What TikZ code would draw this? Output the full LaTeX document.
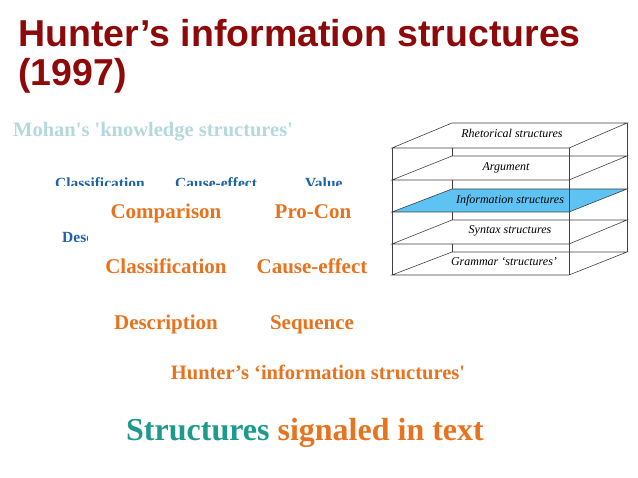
\documentclass[tikz,border=0pt]{standalone}
\usepackage{fontspec}
\setmainfont{Liberation Serif}
\newfontfamily\titlefont{Liberation Sans}
\definecolor{titred}{HTML}{8E0A0A}
\definecolor{mohan}{HTML}{B4D9DD}
\definecolor{blu}{HTML}{1F62A8}
\definecolor{orng}{HTML}{E8731E}
\definecolor{teal}{HTML}{1E9A8C}
\definecolor{infob}{HTML}{5EC3F2}
\newcommand{\sq}{\textquotesingle}
\tikzset{
  title/.style={anchor=base west,inner sep=0,text=titred,font=\titlefont\bfseries\fontsize{37.5}{40}\selectfont},
  bluet/.style={anchor=base west,inner sep=0,text=blu,font=\bfseries\fontsize{15.5}{17}\selectfont},
  oranget/.style={anchor=base,inner sep=0,text=orng,font=\bfseries\fontsize{21}{24}\selectfont},
  layer/.style={inner sep=0,anchor=base,font=\itshape\fontsize{12}{14}\selectfont},
  edge/.style={draw=black!75,line width=0.6pt}
}
\begin{document}
\begin{tikzpicture}[x=1pt,y=-1pt]
\useasboundingbox (0,0) rectangle (638,478);
\node[title] (t1) at (18,47) {Hunter’s information structures};
\node[title] (t2) at (18,86) {(1997)};
\node[anchor=base west,inner sep=0,text=mohan,font=\bfseries\fontsize{20.5}{22}\selectfont] (mo) at (13,137) {Mohan\sq s \sq knowledge structures\sq};
\node[bluet] (b1) at (55,189) {Classification};
\node[bluet] (b2) at (175,189) {Cause-effect};
\node[bluet] (b3) at (305,189) {Value};
\node[bluet] (b4) at (62,243) {Description};
\fill[white] (40,186) rectangle (390,226);
\fill[white] (88,226) rectangle (390,350);
\node[oranget] (o1) at (166,219) {Comparison};
\node[oranget] (o2) at (313,219) {Pro-Con};
\node[oranget] (o3) at (166,274) {Classification};
\node[oranget] (o4) at (312,274) {Cause-effect};
\node[oranget] (o5) at (166,330) {Description};
\node[oranget] (o6) at (312,330) {Sequence};
\node[anchor=base,inner sep=0,text=orng,font=\bfseries\fontsize{20.5}{22}\selectfont] (hu) at (318,380) {Hunter’s ‘information structures\sq};
\node[anchor=base,inner sep=0,font=\bfseries\fontsize{32}{36}\selectfont] (st) at (305,441) {\textcolor{teal}{Structures} \textcolor{orng}{signaled in text}};
% layered box
\def\fl{392}\def\fr{569}\def\bl{452}\def\br{627}
\fill[infob] (\fl,212) -- (\bl,189) -- (\br,189) -- (\fr,212) -- cycle;
\foreach \b/\f in {123/148,156/180,189/212,220/244,252/275}{
  \draw[edge] (\fl,\f) -- (\bl,\b) -- (\br,\b) -- (\fr,\f) -- cycle;
}
\foreach \f/\b in {148/156,180/189,212/220,244/252}{
  \draw[edge] (\bl,\f) -- (\bl,\b);
}
\draw[edge] (\fl,148) -- (\fl,275);
\draw[edge] (\fr,148) -- (\fr,275);
\draw[edge] (\br,123) -- (\br,252);
\node[layer] (l1) at (512,138) {Rhetorical structures};
\node[layer] (l2) at (506,171) {Argument};
\node[layer] (l3) at (510,204) {Information structures};
\node[layer] (l4) at (510,234) {Syntax structures};
\node[layer] (l5) at (504,266) {Grammar ‘structures’};
\end{tikzpicture}
\end{document}
